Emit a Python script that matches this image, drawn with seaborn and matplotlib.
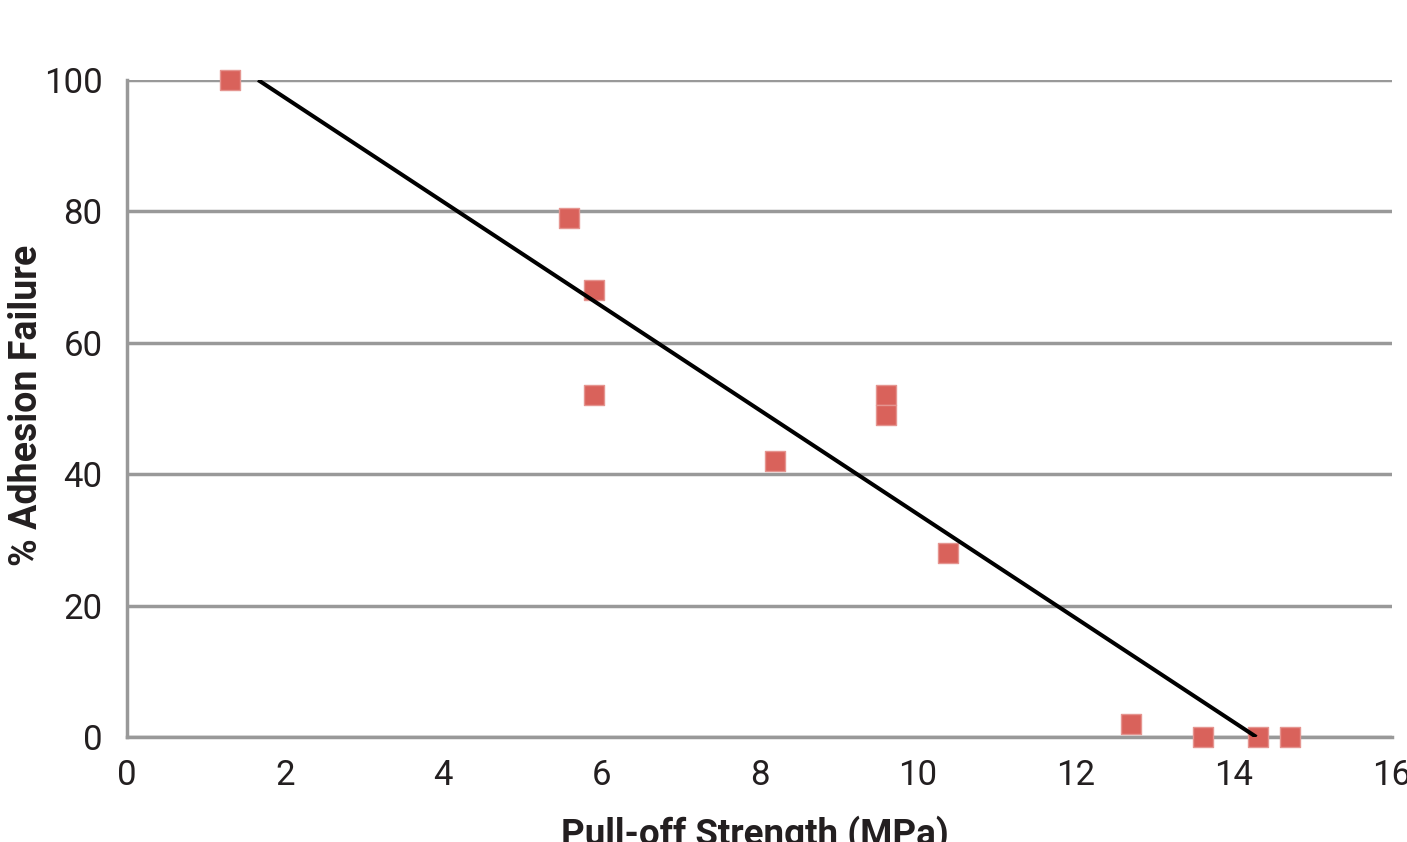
import numpy as np
import pandas as pd
import matplotlib
matplotlib.use("Agg")
import matplotlib.pyplot as plt
import seaborn as sns

# Data
pull_off_strength = [1.30, 5.59, 5.91, 5.91, 8.20, 9.60, 9.60, 10.38, 12.70, 13.61, 14.31, 14.71]
adhesion_failure = [100, 79, 68, 52, 42, 52, 49, 28, 2, 0, 0, 0]
x_ticks = [0, 2, 4, 6, 8, 10, 12, 14, 16]
y_ticks = [0, 20, 40, 60, 80, 100]

df = pd.DataFrame({"x": pull_off_strength, "y": adhesion_failure})

sns.set_theme(style="white")
plt.rcParams["font.family"] = ["Roboto", "DejaVu Sans"]

GREY = "#999999"
TEXT = "#231F20"

fig = plt.figure(figsize=(14.07, 8.42), dpi=100)
ax = fig.add_axes([127 / 1407, 1 - 737 / 842, (1392 - 127) / 1407, (737 - 80) / 842])

# linear trend line (least squares), clipped to 0..100
slope, intercept = np.polyfit(df["x"], df["y"], 1)
x_top = (100 - intercept) / slope
x_bot = (0 - intercept) / slope
ax.plot([x_top, x_bot], [100, 0], color="black", lw=2.9, zorder=5, solid_capstyle="butt")

sns.scatterplot(data=df, x="x", y="y", ax=ax, marker="s", s=220,
                color="#D9625B", edgecolor="#E59590", linewidth=1.0, zorder=4,
                clip_on=False)

ax.set_xlim(0, 16)
ax.set_ylim(0, 100)
ax.set_xticks(x_ticks)
ax.set_yticks(y_ticks)
ax.yaxis.grid(True, color=GREY, lw=2.5)
ax.xaxis.grid(False)
ax.set_axisbelow(True)

for side in ["top", "right"]:
    ax.spines[side].set_visible(False)
for side in ["left", "bottom"]:
    ax.spines[side].set_color(GREY)
    ax.spines[side].set_linewidth(2.5)

ax.tick_params(axis="both", which="major", direction="out", length=9.5, width=2.5,
               color=GREY, labelsize=25, labelcolor=TEXT, pad=6)
ax.tick_params(axis="y", pad=8)

ax.set_xlabel("Pull-off Strength (MPa)", fontsize=26.5, fontweight="bold", color=TEXT)
ax.xaxis.set_label_coords((755 - 127) / 1265, -(815 - 737) / 657)
ax.xaxis.label.set_va("top")
ax.set_ylabel("% Adhesion Failure", fontsize=27, fontweight="bold", color=TEXT)
ax.yaxis.set_label_coords(-0.0648, 0.505)

fig.savefig("out.png", dpi=100)
